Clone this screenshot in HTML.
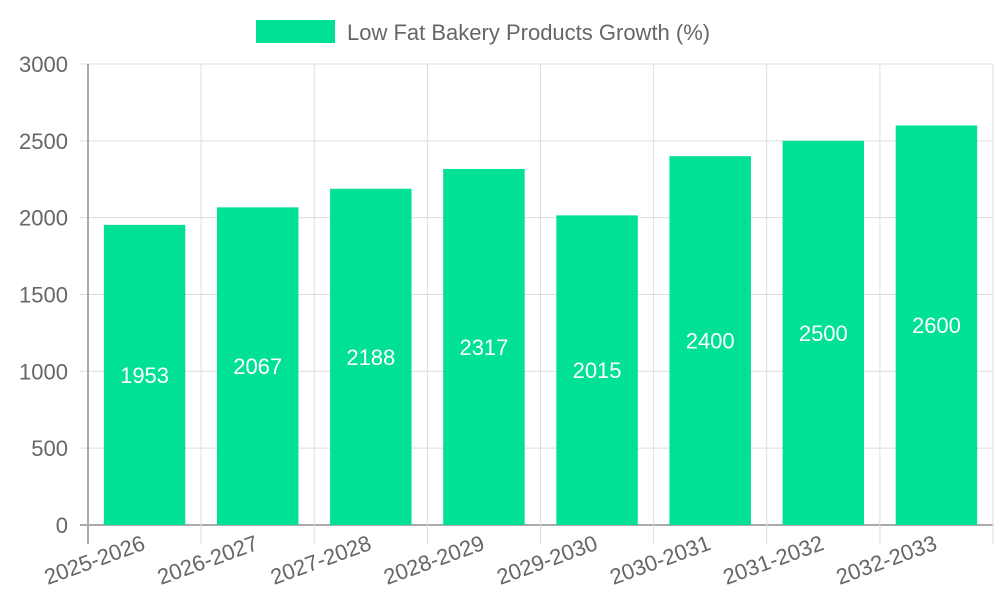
<!DOCTYPE html>
<html><head><meta charset="utf-8"><style>
body{margin:0;background:#fff;}
svg{display:block;font-family:"Liberation Sans",sans-serif;}
</style></head><body>
<svg id="chart" width="1000" height="600">
<g>
<rect x="256" y="20" width="79" height="23" fill="#00e096"></rect>
<text x="347" y="40" font-size="22" fill="#666">Low Fat Bakery Products Growth (%)</text>
</g>
<g id="grid"></g><g id="bars"></g><g id="axes"></g>
</svg>
<script>
const categories=["2025-2026","2026-2027","2027-2028","2028-2029","2029-2030","2030-2031","2031-2032","2032-2033"];
const values=[1953,2067,2188,2317,2015,2400,2500,2600];
const yTicks=[0,500,1000,1500,2000,2500,3000];
const NS="http://www.w3.org/2000/svg";
const L=88,R=993,T=64,B=525,yMax=3000;
const cw=(R-L)/categories.length;
const y=v=>B-(v/yMax)*(B-T);
const xc=i=>L+cw*(i+0.5);
function mk(tag,attrs,parent,text){const e=document.createElementNS(NS,tag);for(const k in attrs)e.setAttribute(k,attrs[k]);if(text!==undefined)e.textContent=text;parent.appendChild(e);return e;}
const grid=document.getElementById('grid'),bars=document.getElementById('bars'),axes=document.getElementById('axes');
yTicks.forEach(t=>{
 const ln=mk('line',{x1:L-8,x2:R,y1:y(t),y2:y(t),stroke:t===0?'#aaa':'#ddd','stroke-width':t===0?2:1},grid);
 
 
 const tx=mk('text',{x:L-20,y:y(t)+8,'text-anchor':'end','font-size':22,fill:'#666'},axes,String(t));
 
 
});
for(let i=0;i<=categories.length;i++){
 const x=L+cw*i;
 const ln=mk('line',{x1:x,x2:x,y1:T,y2:B+19,stroke:i===0?'#aaa':'#ddd','stroke-width':i===0?2:1},grid);
 
 
}
const bw=cw*0.72;
categories.forEach((c,i)=>{
 const r=mk('rect',{x:xc(i)-bw/2,y:y(values[i]),width:bw,height:B-y(values[i]),fill:'#00e096'},bars);
 
 
 const v=mk('text',{x:xc(i),y:(y(values[i])+B)/2+8,'text-anchor':'middle','font-size':22,fill:'#fff'},bars,String(values[i]));
 
 
 const lb=mk('text',{x:xc(i)+2,y:B+24,'text-anchor':'end','font-size':22,fill:'#666',transform:`rotate(-20 ${xc(i)+2} ${B+24})`},axes,c);
 
 
});
</script>
</body></html>
